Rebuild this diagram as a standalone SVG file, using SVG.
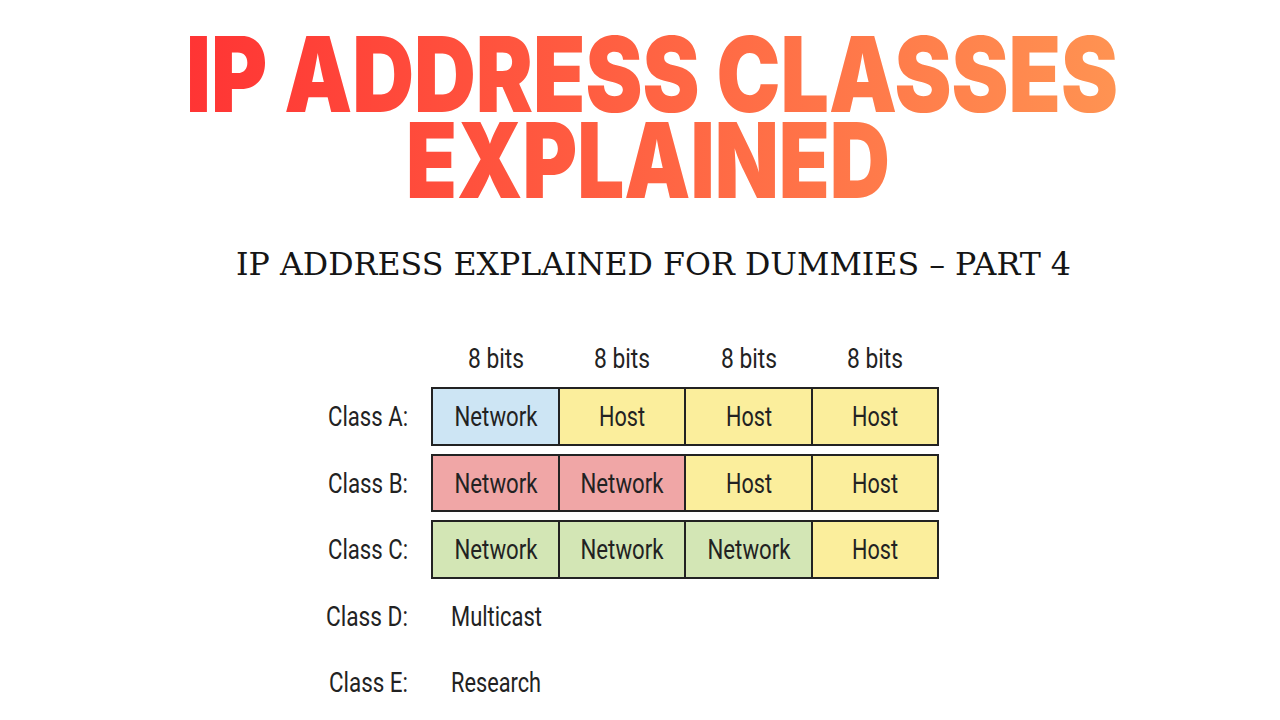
<svg xmlns="http://www.w3.org/2000/svg" width="1280" height="720" viewBox="0 0 1280 720">
  <defs>
    <linearGradient id="tg" gradientUnits="userSpaceOnUse" x1="186" y1="0" x2="1118" y2="0">
      <stop offset="0" stop-color="#ff3434"/>
      <stop offset="1" stop-color="#ff9352"/>
    </linearGradient>
    <style>
      .title { font-family: "Inter", "Liberation Sans", sans-serif; font-weight: 900; font-size: 104px; fill: url(#tg); }
      .sub { font-family: "DejaVu Serif", "Liberation Serif", serif; font-size: 32px; fill: #151515; }
      .t { font-family: "Liberation Sans Narrow", "Roboto", "Liberation Sans", sans-serif; font-size: 28px; fill: #222; }
      .c { text-anchor: middle; }
      .cell { stroke: #222; stroke-width: 2; }
      .blue { fill: #cde5f4; }
      .yellow { fill: #fbee9c; }
      .pink { fill: #f0a6a6; }
      .green { fill: #d3e6b5; }
    </style>
  </defs>
  <rect width="1280" height="720" fill="#ffffff"/>

  <g id="title">
    <text class="title" x="186" y="112" textLength="932" lengthAdjust="spacingAndGlyphs">IP ADDRESS CLASSES</text>
    <text class="title" x="406" y="198" textLength="484" lengthAdjust="spacingAndGlyphs">EXPLAINED</text>
  </g>
  <g id="subtitle">
    <text class="sub" x="236" y="275" textLength="835" lengthAdjust="spacingAndGlyphs">IP ADDRESS EXPLAINED FOR DUMMIES – PART 4</text>
  </g>

  <g id="bits-header">
    <text class="t c" x="496" y="368" textLength="56" lengthAdjust="spacingAndGlyphs">8 bits</text>
    <text class="t c" x="622" y="368" textLength="56" lengthAdjust="spacingAndGlyphs">8 bits</text>
    <text class="t c" x="749" y="368" textLength="56" lengthAdjust="spacingAndGlyphs">8 bits</text>
    <text class="t c" x="875" y="368" textLength="56" lengthAdjust="spacingAndGlyphs">8 bits</text>
  </g>

  <g id="class-a">
    <text class="t" x="328" y="426" textLength="80" lengthAdjust="spacingAndGlyphs">Class A:</text>
    <rect class="cell blue" x="432" y="388" width="127" height="57"/>
    <rect class="cell yellow" x="559" y="388" width="126" height="57"/>
    <rect class="cell yellow" x="685" y="388" width="127" height="57"/>
    <rect class="cell yellow" x="812" y="388" width="126" height="57"/>
    <text class="t c" x="496" y="426" textLength="83" lengthAdjust="spacingAndGlyphs">Network</text>
    <text class="t c" x="622" y="426" textLength="46" lengthAdjust="spacingAndGlyphs">Host</text>
    <text class="t c" x="749" y="426" textLength="46" lengthAdjust="spacingAndGlyphs">Host</text>
    <text class="t c" x="875" y="426" textLength="46" lengthAdjust="spacingAndGlyphs">Host</text>
  </g>

  <g id="class-b">
    <text class="t" x="328" y="493" textLength="80" lengthAdjust="spacingAndGlyphs">Class B:</text>
    <rect class="cell pink" x="432" y="455" width="127" height="56"/>
    <rect class="cell pink" x="559" y="455" width="126" height="56"/>
    <rect class="cell yellow" x="685" y="455" width="127" height="56"/>
    <rect class="cell yellow" x="812" y="455" width="126" height="56"/>
    <text class="t c" x="496" y="493" textLength="83" lengthAdjust="spacingAndGlyphs">Network</text>
    <text class="t c" x="622" y="493" textLength="83" lengthAdjust="spacingAndGlyphs">Network</text>
    <text class="t c" x="749" y="493" textLength="46" lengthAdjust="spacingAndGlyphs">Host</text>
    <text class="t c" x="875" y="493" textLength="46" lengthAdjust="spacingAndGlyphs">Host</text>
  </g>

  <g id="class-c">
    <text class="t" x="328" y="559" textLength="80" lengthAdjust="spacingAndGlyphs">Class C:</text>
    <rect class="cell green" x="432" y="521" width="127" height="57"/>
    <rect class="cell green" x="559" y="521" width="126" height="57"/>
    <rect class="cell green" x="685" y="521" width="127" height="57"/>
    <rect class="cell yellow" x="812" y="521" width="126" height="57"/>
    <text class="t c" x="496" y="559" textLength="83" lengthAdjust="spacingAndGlyphs">Network</text>
    <text class="t c" x="622" y="559" textLength="83" lengthAdjust="spacingAndGlyphs">Network</text>
    <text class="t c" x="749" y="559" textLength="83" lengthAdjust="spacingAndGlyphs">Network</text>
    <text class="t c" x="875" y="559" textLength="46" lengthAdjust="spacingAndGlyphs">Host</text>
  </g>

  <g id="class-d">
    <text class="t" x="326" y="626" textLength="82" lengthAdjust="spacingAndGlyphs">Class D:</text>
    <text class="t" x="451" y="626" textLength="91" lengthAdjust="spacingAndGlyphs">Multicast</text>
  </g>

  <g id="class-e">
    <text class="t" x="329" y="692" textLength="79" lengthAdjust="spacingAndGlyphs">Class E:</text>
    <text class="t" x="451" y="692" textLength="90" lengthAdjust="spacingAndGlyphs">Research</text>
  </g>

  <g id="connectors"/>
</svg>
